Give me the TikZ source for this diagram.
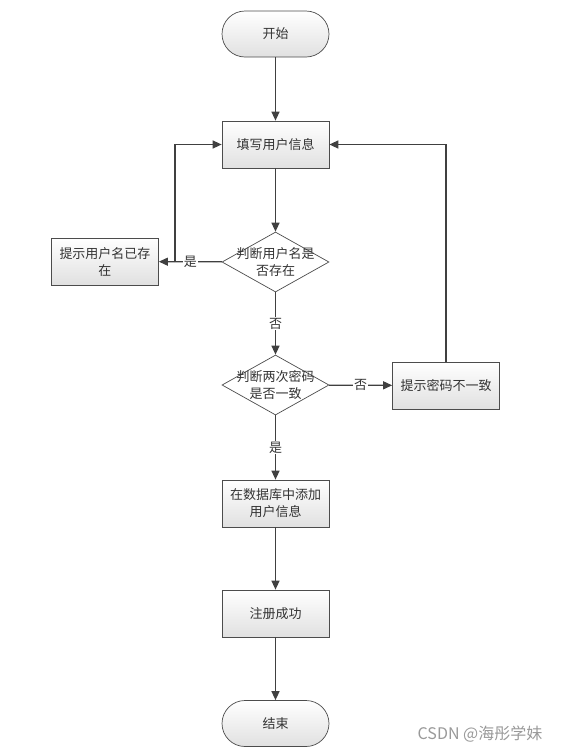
\documentclass[tikz,border=0pt]{standalone}
\usepackage{fontspec}
\newfontfamily\cjk{Noto Sans CJK SC}
\usetikzlibrary{shapes.geometric, arrows.meta}

\begin{document}
\begin{tikzpicture}[x=1pt, y=-1pt, >={Triangle[length=9pt,width=8pt]},
	every node/.style={font=\cjk\fontsize{13}{17}\selectfont, text=black!80},
	terminal/.style={rectangle, rounded corners=23pt, draw=black!70, line width=0.7pt, top color=white, bottom color=black!12, minimum width=107pt, minimum height=46pt},
	procbox/.style={rectangle, draw=black!70, line width=0.7pt, top color=white, bottom color=black!12, minimum width=107pt, minimum height=47pt, align=center},
	decision/.style={diamond, draw=black!70, line width=0.7pt, fill=white, minimum width=107pt, minimum height=60pt, inner sep=0pt},
	yesno/.style={fill=white, inner sep=1pt},
	flow/.style={->, draw=black!75, line width=1.3pt}]
	\useasboundingbox (0,0) rectangle (564,753);
	
	% 节点
	\node[terminal] (start) at (275.5,34) {开始};
	\node[procbox] (fill) at (275.5,144.5) {填写用户信息};
	\node[decision] (chk1) at (275.5,262) {};
	\node[align=center] at (chk1) {判断用户名是\\否存在};
	\node[procbox] (exist) at (105,261.5) {提示用户名已存\\在};
	\node[decision] (chk2) at (275.5,385) {};
	\node[align=center] at (chk2) {判断两次密码\\是否一致};
	\node[procbox] (pwd) at (446,385.5) {提示密码不一致};
	\node[procbox] (add) at (275.5,503.5) {在数据库中添加\\用户信息};
	\node[procbox] (ok) at (275.5,613.5) {注册成功};
	\node[terminal] (stop) at (275.5,723.5) {结束};
	
	% 连线
	\draw[flow] (start) -- (fill);
	\draw[flow] (fill) -- (chk1);
	\draw[flow] (chk1) -- node[yesno] {是} (exist);
	\coordinate (back1) at (175,262);
	\draw[flow] (back1) |- (fill);
	\draw[flow] (chk1) -- node[yesno] {否} (chk2);
	\draw[flow] (chk2) -- node[yesno] {否} (pwd);
	\draw[flow] (pwd) |- (fill);
	\draw[flow] (chk2) -- node[yesno] {是} (add);
	\draw[flow] (add) -- (ok);
	\draw[flow] (ok) -- (stop);
	
	% 水印
	\node[font=\cjk\fontsize{16}{18}\selectfont, text=black!40] (mark) at (480,734) {CSDN @海彤学妹};
\end{tikzpicture}
\end{document}
